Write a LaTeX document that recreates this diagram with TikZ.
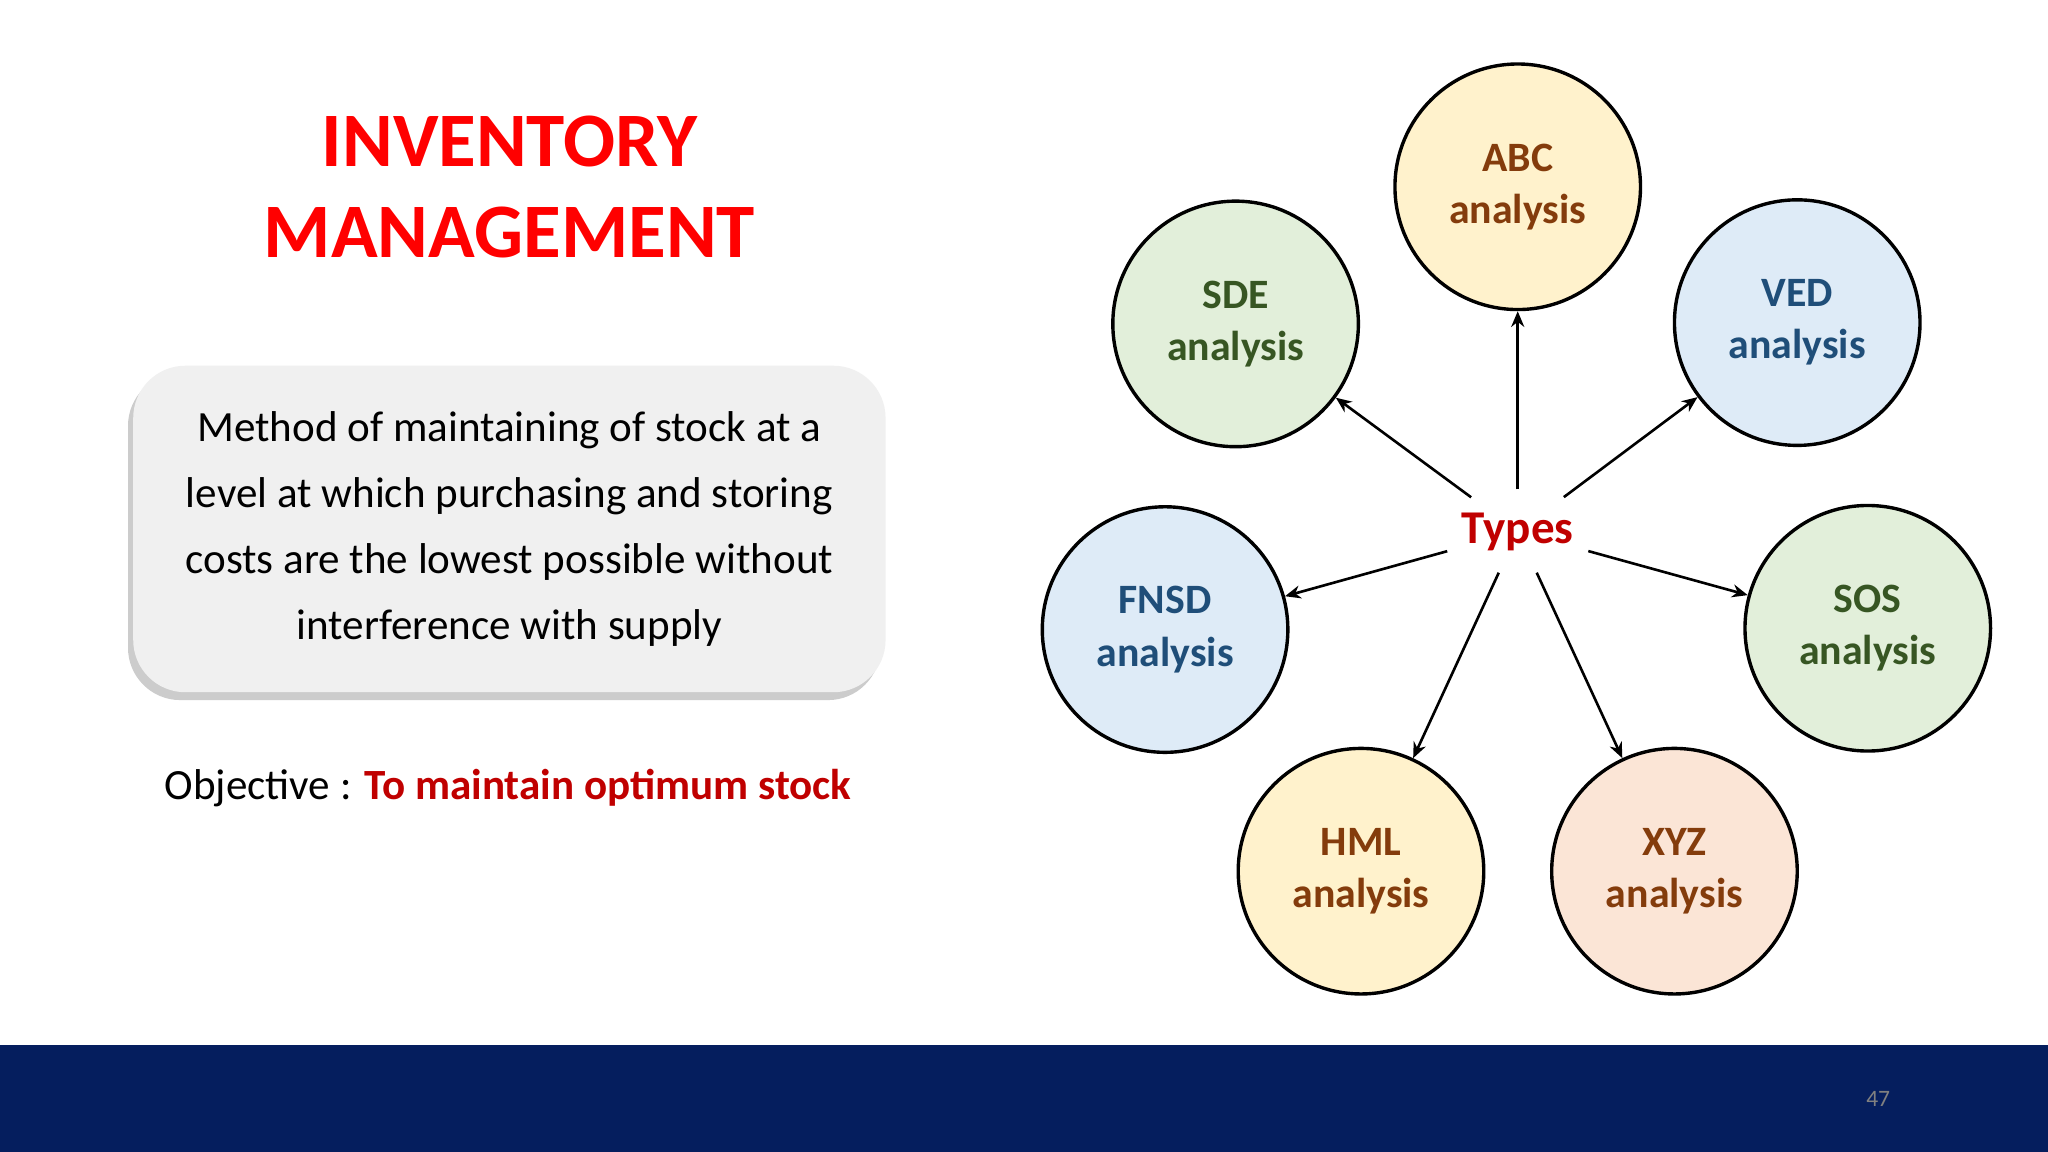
\documentclass[tikz,border=0pt]{standalone}
\usepackage{fontspec}
\setmainfont{Carlito}
\usetikzlibrary{shapes.geometric,shadows,arrows.meta}
\definecolor{yelf}{HTML}{FFF2CC}\definecolor{brn}{HTML}{843C0C}
\definecolor{grnf}{HTML}{E2EFDA}\definecolor{grt}{HTML}{375623}
\definecolor{bluf}{HTML}{DEEBF7}\definecolor{blt}{HTML}{1F4E79}
\definecolor{orf}{HTML}{FBE5D6}\definecolor{dred}{HTML}{C00000}
\definecolor{navy}{HTML}{051E5E}
\tikzset{typ/.style={circle,draw=black,line width=1.3pt,minimum size=94pt,align=center,font=\fontsize{16}{20}\selectfont\bfseries},
arr/.style={-{Stealth[length=6pt,width=5pt]},line width=1pt}}
\begin{document}
\begin{tikzpicture}[x=0.5pt,y=-0.5pt]
\useasboundingbox (0,0) rectangle (1568,882);
\fill[white] (0,0) rectangle (1568,882);
\fill[navy] (0,800) rectangle (1568,882);
\node[text=gray,font=\fontsize{9}{10}\selectfont] (pg) at (1438,841) {47};
\node[text=red,font=\fontsize{29.5}{35}\selectfont\bfseries,align=center] (title) at (390,143) {INVENTORY\\MANAGEMENT};
\node[draw=none,fill=black!6,rounded corners=20pt,minimum width=288pt,minimum height=125pt,drop shadow={shadow xshift=-2pt,shadow yshift=-3pt,opacity=0.4},align=center,font=\fontsize{16.5}{25.3}\selectfont] (def) at (390,405) {Method of maintaining of stock at a\\level at which purchasing and storing\\costs are the lowest possible without\\interference with supply};
\node[font=\fontsize{16.5}{18}\selectfont] (obj) at (389,603) {Objective : \textcolor{dred}{\bfseries To maintain optimum stock}};
\node[ellipse,minimum width=58pt,minimum height=32pt,inner sep=0pt,text=dred,font=\fontsize{18}{20}\selectfont\bfseries] (types) at (1162,407) {Types};
\node[typ,fill=yelf,text=brn] (abc) at (1162,143) {ABC\\analysis};
\node[typ,fill=bluf,text=blt] (ved) at (1376,247) {VED\\analysis};
\node[typ,fill=grnf,text=grt] (sos) at (1430,481) {SOS\\analysis};
\node[typ,fill=orf,text=brn] (xyz) at (1282,667) {XYZ\\analysis};
\node[typ,fill=yelf,text=brn] (hml) at (1042,667) {HML\\analysis};
\node[typ,fill=bluf,text=blt] (fnsd) at (892,482) {FNSD\\analysis};
\node[typ,fill=grnf,text=grt] (sde) at (946,248) {SDE\\analysis};
\foreach \n in {abc,ved,sos,xyz,hml,fnsd,sde} \draw[arr] (types) -- (\n);
\end{tikzpicture}
\end{document}
